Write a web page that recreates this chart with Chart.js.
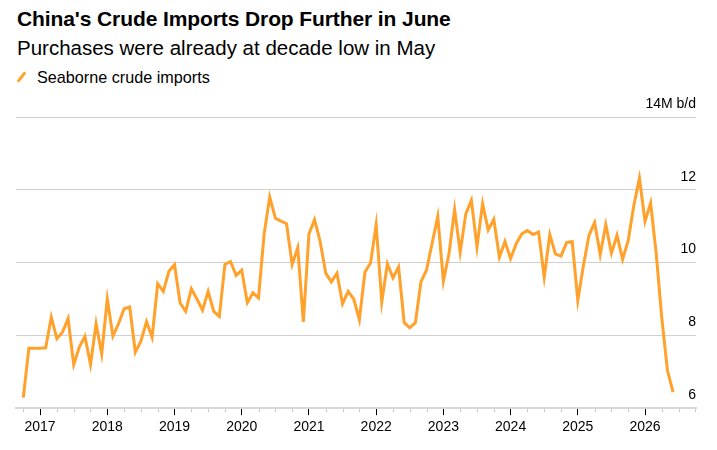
<!DOCTYPE html>
<html>
<head>
<meta charset="utf-8">
<script src="https://cdn.jsdelivr.net/npm/chart.js@4.4.1/dist/chart.umd.min.js"></script>
<style>
  html, body { margin: 0; padding: 0; background: #fff; }
  body { width: 717px; height: 450px; position: relative; overflow: hidden;
         font-family: 'Liberation Sans', Arial, Helvetica, sans-serif; color: #000; }
  #title { position: absolute; left: 17px; top: 8px; font-size: 21px; line-height: 21px; font-weight: bold; white-space: nowrap; letter-spacing: -0.1px; }
  #subtitle { position: absolute; left: 17px; top: 38px; font-size: 20.5px; line-height: 20px; white-space: nowrap; }
  #legend { position: absolute; left: 37px; top: 69px; font-size: 16.2px; line-height: 16px; white-space: nowrap; }
  #swatch { position: absolute; left: 20px; top: 71px; width: 3px; height: 12px; background: #ffa12b; transform: rotate(38deg); border-radius: 1px; }
  #wrap { position: absolute; left: 0; top: 0; width: 717px; height: 450px; }
</style>
</head>
<body>
<div id="title">China's Crude Imports Drop Further in June</div>
<div id="subtitle">Purchases were already at decade low in May</div>
<div id="swatch"></div>
<div id="legend">Seaborne crude imports</div>
<div id="wrap"><canvas id="c" width="717" height="450"></canvas></div>
<script>
// ---- data (monthly, Oct 2016 .. Jun 2026), million barrels/day ----
const firstYear = 2016;
const firstMonth = 10;
const seaborneImports = [
  6.29, 7.65, 7.65,
  7.65, 7.66, 8.50, 7.91, 8.09, 8.46, 7.20, 7.68, 7.97, 7.20, 8.32, 7.49,
  9.00, 7.98, 8.32, 8.73, 8.78, 7.54, 7.84, 8.38, 7.95, 9.42, 9.21, 9.76,
  9.94, 8.89, 8.66, 9.28, 9.00, 8.69, 9.21, 8.66, 8.52, 9.95, 10.03, 9.65,
  9.79, 8.90, 9.17, 9.03, 10.79, 11.80, 11.22, 11.14, 11.07, 9.95, 10.41, 8.37,
  10.79, 11.18, 10.58, 9.71, 9.47, 9.71, 8.87, 9.21, 9.00, 8.43, 9.74, 9.99,
  11.04, 8.92, 9.97, 9.58, 9.88, 8.35, 8.21, 8.35, 9.47, 9.80, 10.54, 11.27,
  9.49, 10.24, 11.46, 10.29, 11.34, 11.71, 10.43, 11.62, 10.90, 11.19, 10.15, 10.58,
  10.11, 10.52, 10.79, 10.88, 10.77, 10.84, 9.60, 10.77, 10.24, 10.18, 10.55, 10.58,
  8.96, 9.92, 10.75, 11.10, 10.22, 11.04, 10.26, 10.75, 10.09, 10.61, 11.57, 12.32,
  11.13, 11.64, 10.24, 8.46, 7.04, 6.44
];
const yearLabels = ['2017','2018','2019','2020','2021','2022','2023','2024','2025','2026'];
const yTickValues = [6, 8, 10, 12, 14];
const yUnitLabel = '14M b/d';

// month categories built from the start month
const months = seaborneImports.map((_, i) => {
  const m0 = firstMonth - 1 + i;
  const y = firstYear + Math.floor(m0 / 12);
  const m = (m0 % 12) + 1;
  return y + '-' + String(m).padStart(2, '0');
});
const points = seaborneImports.map((v, i) => ({ x: i, y: v }));
// index (month offset) of January of each labelled year
const yearIndex = yearLabels.map(y => (parseInt(y) - firstYear) * 12 - (firstMonth - 1));

const FONT = "'Liberation Sans', Arial, Helvetica, sans-serif";

const minorTicks = {
  id: 'minorTicks',
  afterDraw(chart) {
    const xs = chart.scales.x;
    const ctx = chart.ctx;
    ctx.save();
    ctx.strokeStyle = '#c4c4c4';
    ctx.lineWidth = 1;
    for (let i = Math.ceil(xs.min); i <= xs.max; i++) {
      const m = ((firstMonth - 1 + i) % 12 + 12) % 12;
      if (m % 3 === 0 && m !== 0) {
        const px = Math.round(xs.getPixelForValue(i)) + 0.5;
        ctx.beginPath();
        ctx.moveTo(px, xs.top + 1);
        ctx.lineTo(px, xs.top + 4);
        ctx.stroke();
      }
    }
    ctx.restore();
  }
};

new Chart(document.getElementById('c'), {
  type: 'line',
  data: {
    datasets: [{
      label: 'Seaborne crude imports',
      data: points,
      borderColor: '#ffa12b',
      borderWidth: 3,
      pointRadius: 0,
      tension: 0,
      fill: false,
      borderJoinStyle: 'miter'
    }]
  },
  options: {
    responsive: false,
    animation: false,
    devicePixelRatio: 1,
    layout: { padding: { top: 117, left: 16, right: 21, bottom: 10 } },
    plugins: { legend: { display: false }, tooltip: { enabled: false }, title: { display: false } },
    scales: {
      x: {
        type: 'linear',
        min: -1.3,
        max: 120.1,
        afterBuildTicks: (scale) => { scale.ticks = yearIndex.map(v => ({ value: v })); },
        ticks: {
          autoSkip: false,
          maxRotation: 0,
          padding: 4,
          color: '#000',
          font: { family: FONT, size: 14 },
          callback: (value) => {
            const k = yearIndex.indexOf(value);
            return k >= 0 ? yearLabels[k] : '';
          }
        },
        grid: { display: true, drawOnChartArea: false, drawTicks: true, tickLength: 7, tickColor: '#000', tickWidth: 1 },
        border: { display: true, color: '#d6d6d6', width: 2 }
      },
      y: {
        position: 'right',
        min: 6,
        max: 14,
        afterBuildTicks: (scale) => { scale.ticks = yTickValues.map(v => ({ value: v })); },
        ticks: {
          mirror: true,
          padding: 0,
          labelOffset: -13,
          color: '#000',
          font: { family: FONT, size: 14 },
          callback: (v) => v === 14 ? yUnitLabel : String(v)
        },
        grid: {
          drawTicks: false,
          color: (c) => (c.tick && c.tick.value === 6) ? 'rgba(0,0,0,0)' : '#d0d0d0',
          lineWidth: 1
        },
        border: { display: false }
      }
    }
  },
  plugins: [minorTicks]
});
</script>
</body>
</html>
